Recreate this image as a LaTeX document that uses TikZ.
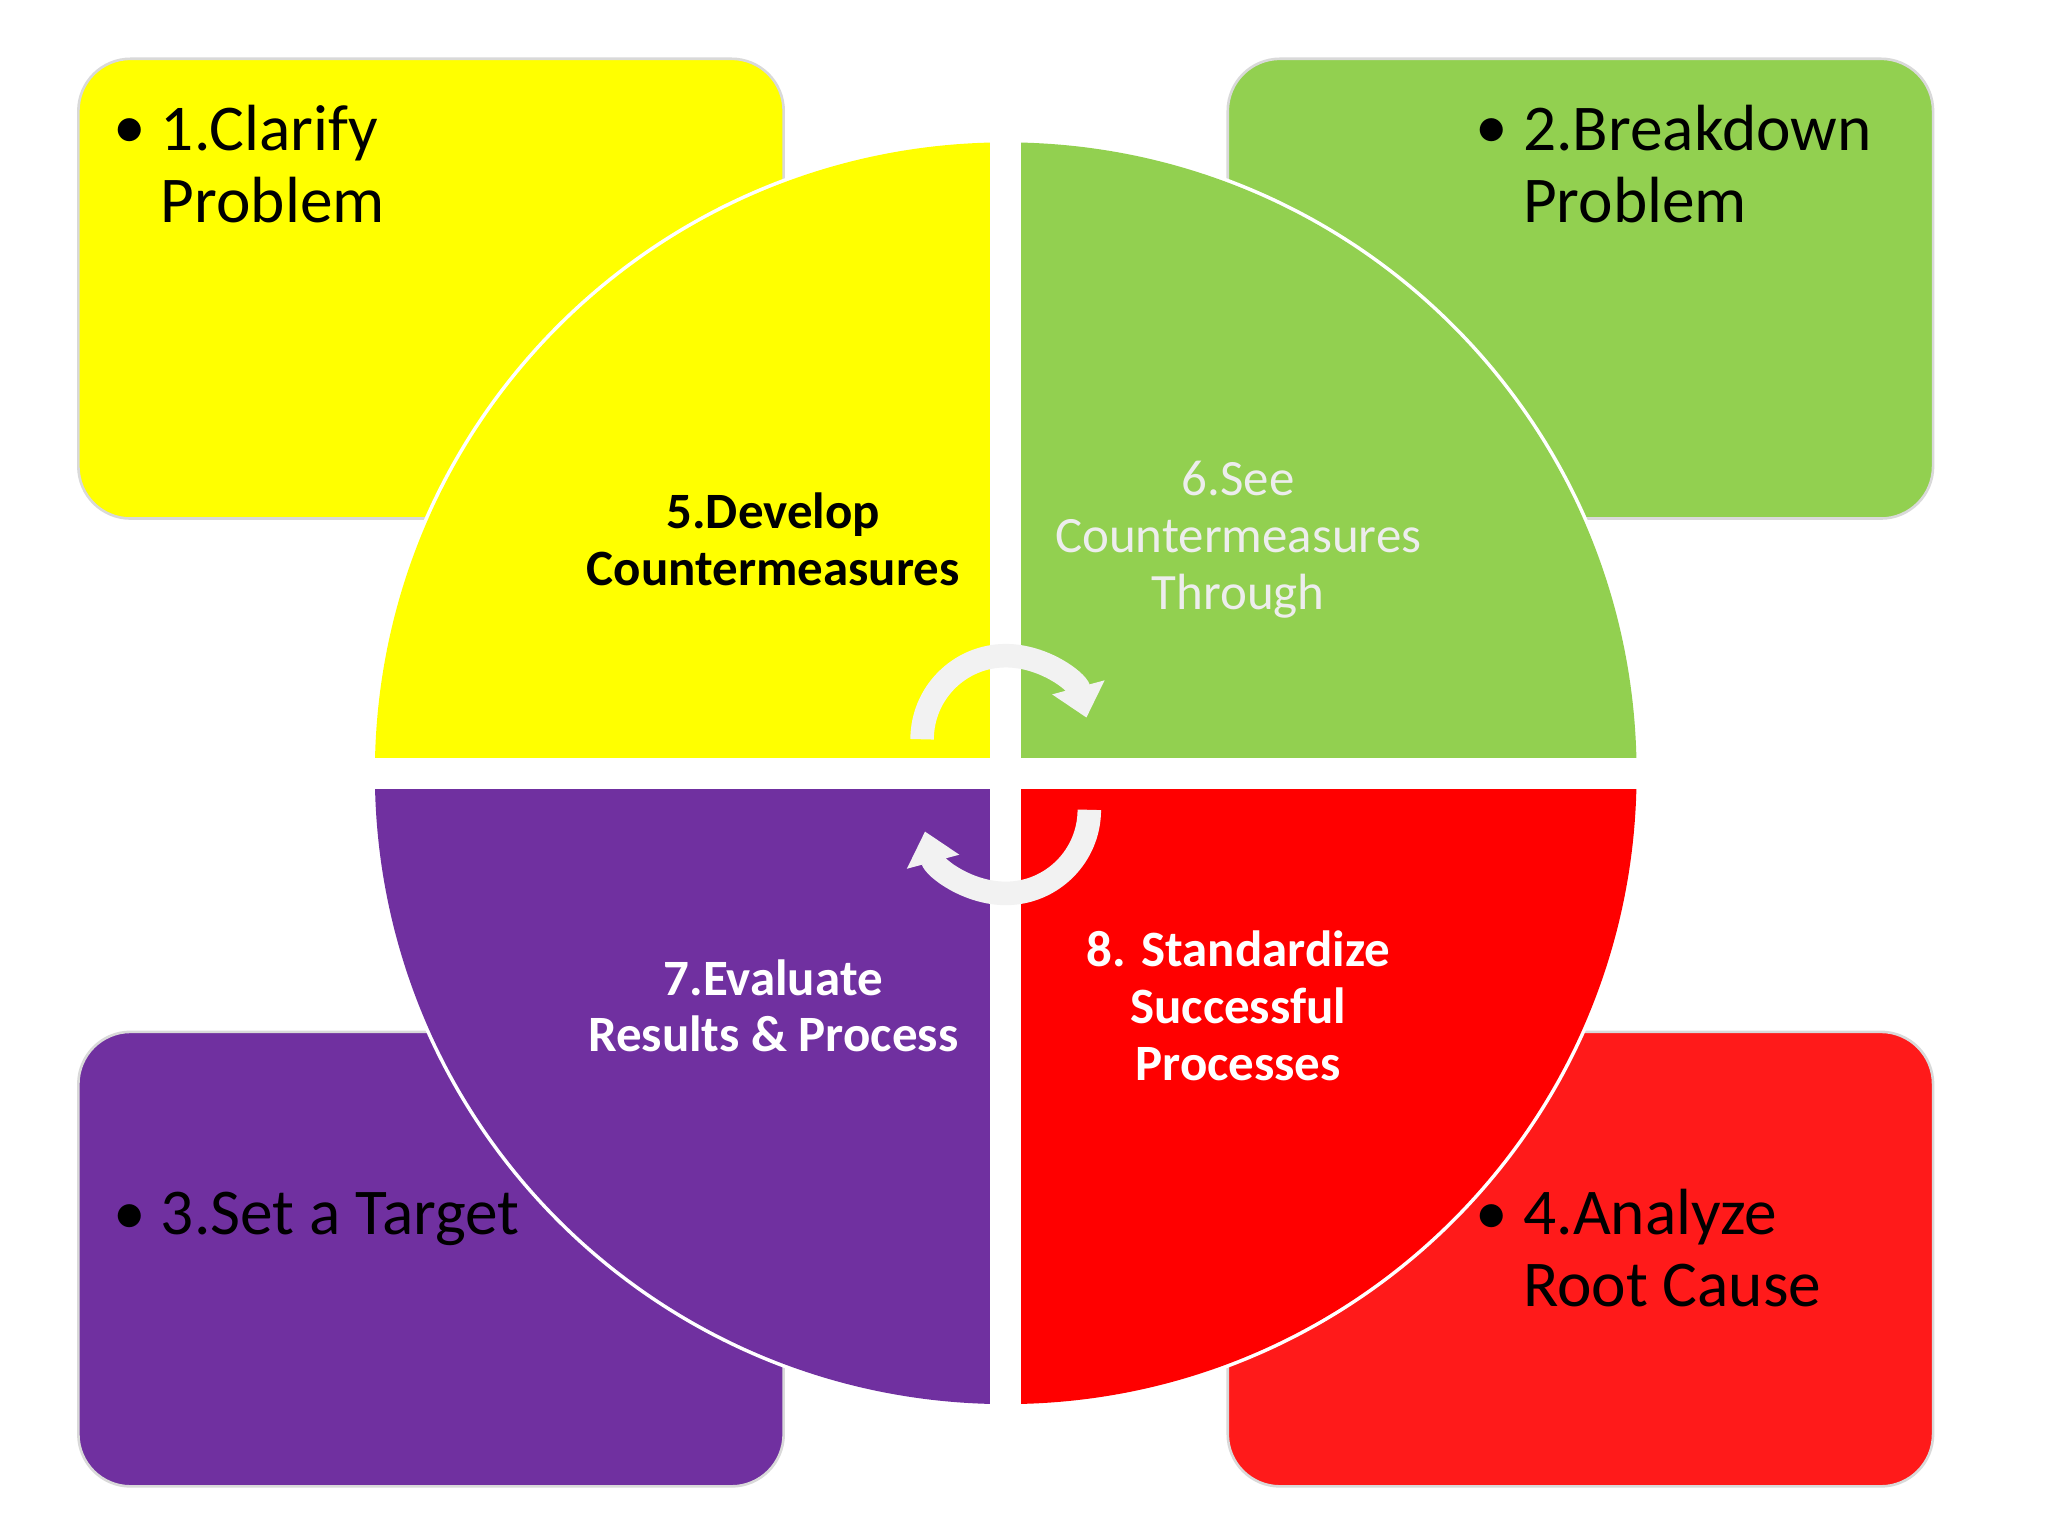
\documentclass[tikz,border=0pt]{standalone}
\usepackage{fontspec}
\setmainfont{Carlito}
\usetikzlibrary{arrows.meta}
\definecolor{cy}{HTML}{FFFF00}
\definecolor{cg}{HTML}{92D050}
\definecolor{cp}{HTML}{7030A0}
\definecolor{cr}{HTML}{FF0000}
\definecolor{cr2}{HTML}{FF1A1A}
\definecolor{bd}{HTML}{D9D9D9}
\begin{document}
\begin{tikzpicture}[x=1pt,y=-1pt,
  box/.style={draw=bd,line width=2pt,rounded corners=40pt},
  btxt/.style={anchor=base west,align=left,inner sep=0pt,font=\fontsize{50}{55}\selectfont},
  bul/.style={anchor=base,inner sep=0pt,font=\fontsize{50}{55}\selectfont},
  qtxt/.style={align=center,inner sep=0pt,font=\fontsize{39}{43.5}\selectfont},
  qb/.style={qtxt,font=\bfseries\fontsize{39}{43.5}\selectfont},
  cyc/.style={line width=18pt,draw=gray!10,-{Triangle[width=40pt,length=24pt]}}]
\useasboundingbox (0,0) rectangle (1568,1176);
\fill[white] (0,0) rectangle (1568,1176);
% boxes
\draw[box,fill=cy] (60,45) rectangle (600,397);
\draw[box,fill=cg] (940,45) rectangle (1480,397);
\draw[box,fill=cp] (60,790) rectangle (600,1138);
\draw[box,fill=cr2] (940,790) rectangle (1480,1138);
\node[bul] (b1) at (99,114) {•};
\node[btxt] (t1) at (123,170) {1.Clarify\\Problem};
\node[bul] (b2) at (1142,114) {•};
\node[btxt] (t2) at (1166,170) {2.Breakdown\\Problem};
\node[bul] (b3) at (99,945) {•};
\node[btxt] (t3) at (123,945) {3.Set a Target};
\node[bul] (b4) at (1142,945) {•};
\node[btxt] (t4) at (1166,1000) {4.Analyze\\Root Cause};
% circle
\coordinate (c) at (770,592);
\draw[white,fill=white,line width=1.5pt] (c) circle[radius=485];
\begin{scope}
\clip (c) circle[radius=483];
\fill[cy] (200,50) rectangle (758,580);
\fill[cg] (782,50) rectangle (1300,580);
\fill[cp] (200,604) rectangle (758,1100);
\fill[cr] (782,604) rectangle (1300,1100);
\end{scope}
\node[qb,text=black] (q5) at (592,413) {5.Develop\\Countermeasures};
\node[qtxt,text=white!93!black] (q6) at (948,413) {6.See\\Countermeasures\\Through};
\node[qb,text=white] (q7) at (592,770) {7.Evaluate\\Results \& Process};
\node[qb,text=white] (q8) at (948,770) {8. Standardize\\Successful\\Processes};
% cycle arrows
\coordinate (a1) at (706,566);
\coordinate (a2) at (834,620);
\draw[cyc] (a1) arc[start angle=180,end angle=345,radius=64];
\draw[cyc] (a2) arc[start angle=0,end angle=165,radius=64];
\end{tikzpicture}
\end{document}
